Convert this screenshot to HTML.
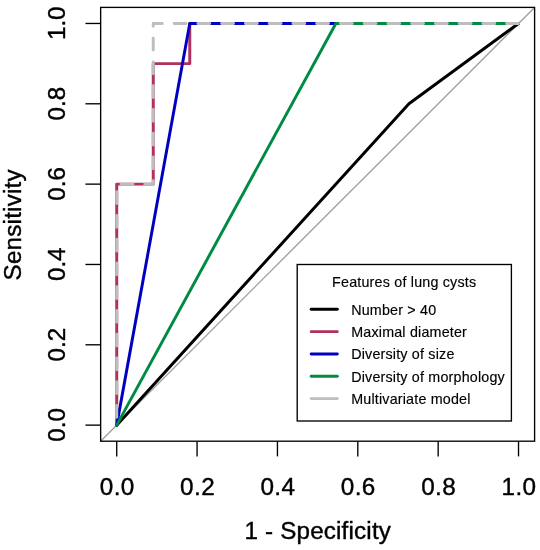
<!DOCTYPE html>
<html><head><meta charset="utf-8"><title>ROC</title>
<style>html,body{margin:0;padding:0;background:#fff}svg{display:block}text{font-family:"Liberation Sans",Arial,sans-serif;fill:#000;stroke:#000;stroke-width:0.4px}text.l{stroke-width:0.15px}</style></head><body>
<svg width="540" height="550" viewBox="0 0 540 550">
<rect width="540" height="550" fill="#fff"/>
<line x1="100.65" y1="441.2" x2="534.6" y2="7.4" stroke="#a0a0a0" stroke-width="1.35"/>
<polyline points="518.52,23.46 408.94,103.79 116.72,425.13" fill="none" stroke="#000" stroke-width="2.96" stroke-linecap="round" stroke-linejoin="round" />
<polyline points="518.52,23.46 189.77,23.46 189.77,63.63 153.25,63.63 153.25,184.13 116.72,184.13 116.72,425.13" fill="none" stroke="#B03060" stroke-width="2.96" stroke-linecap="round" stroke-linejoin="round" />
<polyline points="518.52,23.46 189.77,23.46 116.72,425.13" fill="none" stroke="#0000C0" stroke-width="2.96" stroke-linecap="round" stroke-linejoin="round" />
<polyline points="518.52,23.46 335.88,23.46 116.72,425.13" fill="none" stroke="#008B45" stroke-width="2.96" stroke-linecap="round" stroke-linejoin="round" />
<polyline points="518.52,23.46 153.25,23.46 153.25,184.13 116.72,184.13 116.72,425.13" fill="none" stroke="#BEBEBE" stroke-width="2.96" stroke-linecap="round" stroke-linejoin="round" stroke-dasharray="11.875 11.875"/>
<rect x="100.65" y="7.4" width="433.95000000000005" height="433.8" fill="none" stroke="#000" stroke-width="1.35"/>
<line x1="116.72" y1="441.2" x2="116.72" y2="456.4" stroke="#000" stroke-width="1.35"/>
<line x1="100.65" y1="425.13" x2="85.45" y2="425.13" stroke="#000" stroke-width="1.35"/>
<text x="117.22" y="494.9" font-size="24.3" letter-spacing="0.4" text-anchor="middle">0.0</text>
<text transform="translate(65.2,424.93) rotate(-90)" font-size="24.2" text-anchor="middle">0.0</text>
<line x1="197.08" y1="441.2" x2="197.08" y2="456.4" stroke="#000" stroke-width="1.35"/>
<line x1="100.65" y1="344.80" x2="85.45" y2="344.80" stroke="#000" stroke-width="1.35"/>
<text x="197.58" y="494.9" font-size="24.3" letter-spacing="0.4" text-anchor="middle">0.2</text>
<text transform="translate(65.2,344.60) rotate(-90)" font-size="24.2" text-anchor="middle">0.2</text>
<line x1="277.44" y1="441.2" x2="277.44" y2="456.4" stroke="#000" stroke-width="1.35"/>
<line x1="100.65" y1="264.46" x2="85.45" y2="264.46" stroke="#000" stroke-width="1.35"/>
<text x="277.94" y="494.9" font-size="24.3" letter-spacing="0.4" text-anchor="middle">0.4</text>
<text transform="translate(65.2,264.26) rotate(-90)" font-size="24.2" text-anchor="middle">0.4</text>
<line x1="357.80" y1="441.2" x2="357.80" y2="456.4" stroke="#000" stroke-width="1.35"/>
<line x1="100.65" y1="184.13" x2="85.45" y2="184.13" stroke="#000" stroke-width="1.35"/>
<text x="358.30" y="494.9" font-size="24.3" letter-spacing="0.4" text-anchor="middle">0.6</text>
<text transform="translate(65.2,183.93) rotate(-90)" font-size="24.2" text-anchor="middle">0.6</text>
<line x1="438.16" y1="441.2" x2="438.16" y2="456.4" stroke="#000" stroke-width="1.35"/>
<line x1="100.65" y1="103.79" x2="85.45" y2="103.79" stroke="#000" stroke-width="1.35"/>
<text x="438.66" y="494.9" font-size="24.3" letter-spacing="0.4" text-anchor="middle">0.8</text>
<text transform="translate(65.2,103.59) rotate(-90)" font-size="24.2" text-anchor="middle">0.8</text>
<line x1="518.52" y1="441.2" x2="518.52" y2="456.4" stroke="#000" stroke-width="1.35"/>
<line x1="100.65" y1="23.46" x2="85.45" y2="23.46" stroke="#000" stroke-width="1.35"/>
<text x="519.02" y="494.9" font-size="24.3" letter-spacing="0.4" text-anchor="middle">1.0</text>
<text transform="translate(65.2,23.26) rotate(-90)" font-size="24.2" text-anchor="middle">1.0</text>
<text x="317.8" y="539.3" font-size="24.2" letter-spacing="0.185" text-anchor="middle">1 - Specificity</text>
<text transform="translate(20.7,224.8) rotate(-90)" font-size="24.2" letter-spacing="0.22" text-anchor="middle">Sensitivity</text>
<rect x="297.2" y="264.5" width="214.2" height="156.5" fill="#fff" stroke="#000" stroke-width="1.35"/>
<text x="404.2" y="287.1" font-size="14.3" letter-spacing="0.2" class="l" text-anchor="middle">Features of lung cysts</text>
<line x1="311.2" y1="309.3" x2="337.3" y2="309.3" stroke="#000" stroke-width="2.96" stroke-linecap="round"/>
<text x="351.2" y="314.60" font-size="14.3" letter-spacing="0.19" class="l">Number &gt; 40</text>
<line x1="311.2" y1="331.63" x2="337.3" y2="331.63" stroke="#B03060" stroke-width="2.96" stroke-linecap="round"/>
<text x="351.2" y="336.93" font-size="14.3" letter-spacing="0.19" class="l">Maximal diameter</text>
<line x1="311.2" y1="353.96000000000004" x2="337.3" y2="353.96000000000004" stroke="#0000C0" stroke-width="2.96" stroke-linecap="round"/>
<text x="351.2" y="359.26" font-size="14.3" letter-spacing="0.19" class="l">Diversity of size</text>
<line x1="311.2" y1="376.29" x2="337.3" y2="376.29" stroke="#008B45" stroke-width="2.96" stroke-linecap="round"/>
<text x="351.2" y="381.59" font-size="14.3" letter-spacing="0.19" class="l">Diversity of morphology</text>
<line x1="311.2" y1="398.62" x2="337.3" y2="398.62" stroke="#BEBEBE" stroke-width="2.96" stroke-linecap="round"/>
<text x="351.2" y="403.92" font-size="14.3" letter-spacing="0.19" class="l">Multivariate model</text>
</svg></body></html>
